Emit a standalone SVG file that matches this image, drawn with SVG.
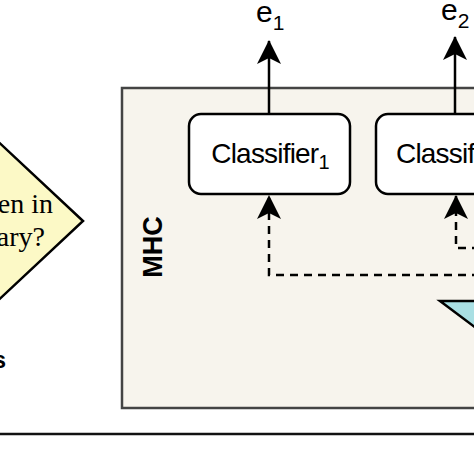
<svg xmlns="http://www.w3.org/2000/svg" width="474" height="474" viewBox="0 0 474 474">
<style>
.sans{font-family:"Liberation Sans",Arial,sans-serif;fill:#000}
.serif{font-family:"Liberation Serif","Times New Roman",serif;fill:#000}
.cls{fill:#fff;stroke:#000;stroke-width:2.5}
.solid{fill:none;stroke:#000;stroke-width:2.5}
.dash{fill:none;stroke:#000;stroke-width:2.5;stroke-dasharray:8 6}
</style>
<defs>
<marker id="ah" viewBox="0 0 24 24" refX="23" refY="12" markerWidth="24" markerHeight="24" markerUnits="userSpaceOnUse" orient="auto">
<path d="M24 12 L0 0 L6 12 L0 24 Z" fill="#000"/>
</marker>
</defs>
<rect width="474" height="474" fill="#fff"/>
<g id="decision">
<polygon points="83,221 -40,106 -163,221 -40,336" fill="#fcf9c6" stroke="#000" stroke-width="2.5"/>
<text class="serif" x="53" y="213" font-size="28" text-anchor="end">en in</text>
<text class="serif" x="45" y="246" font-size="28" text-anchor="end">ary?</text>
</g>
<g id="label-s">
<text class="sans" x="6" y="368" font-size="24" font-weight="bold" text-anchor="end">s</text>
</g>
<g id="mhc">
<rect x="122" y="88" width="400" height="320" fill="#f7f4ed" stroke="#444" stroke-width="2.5"/>
<text class="sans" transform="translate(162,247) rotate(-90)" font-size="27" font-weight="bold" text-anchor="middle">MHC</text>
</g>
<g id="projector">
<polygon points="440,301 520,301 500,346" fill="#a9dfe3" stroke="#000" stroke-width="2.5"/>
</g>
<g id="classifier1">
<rect class="cls" x="189" y="114" width="161" height="80" rx="12"/>
<text class="sans" x="270" y="163" font-size="28" text-anchor="middle" letter-spacing="-0.8">Classifier<tspan font-size="20" dy="6">1</tspan></text>
</g>
<g id="classifier2">
<rect class="cls" x="376" y="114" width="161" height="80" rx="12"/>
<text class="sans" x="396" y="163" font-size="28" letter-spacing="-0.8">Classifi</text>
</g>
<g id="e1">
<text class="sans" x="256" y="22" font-size="30">e<tspan font-size="21" dy="8">1</tspan></text>
</g>
<g id="e2">
<text class="sans" x="441" y="20" font-size="30">e<tspan font-size="21" dy="8">2</tspan></text>
</g>
<g id="connectors">
<line class="solid" x1="269" y1="114" x2="269" y2="41" marker-end="url(#ah)"/>
<line class="solid" x1="455" y1="114" x2="455" y2="37" marker-end="url(#ah)"/>
<polyline class="dash" points="480,275 269,275 269,196" marker-end="url(#ah)"/>
<polyline class="dash" points="480,248 456,248 456,196" marker-end="url(#ah)"/>
<line x1="0" y1="434" x2="474" y2="434" stroke="#111" stroke-width="2.5"/>
</g>
</svg>
